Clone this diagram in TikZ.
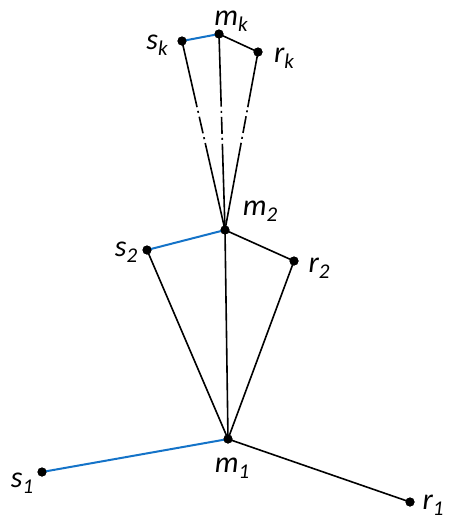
\documentclass[tikz,border=0pt]{standalone}
\usepackage{fontspec}
\setmainfont{Carlito}
\usetikzlibrary{calc}
\definecolor{linkblue}{RGB}{20,115,200}
\newcommand{\lbl}[2]{{\fontsize{30}{33}\selectfont\itshape #1\raisebox{-6.5pt}{\fontsize{21}{23}\selectfont #2}}}
\tikzset{
  pt/.style={circle,fill=black,inner sep=0pt,minimum size=9pt},
  bar/.style={line width=1.6pt,black},
  bluebar/.style={line width=2pt,linkblue},
  dashdot/.style={line width=1.6pt,black,dash pattern=on 0pt off 4pt on 2pt off 4pt on 17pt off 4pt on 2pt off 4pt},
  lab/.style={inner sep=0pt,anchor=center}
}
\begin{document}
\begin{tikzpicture}[x=1pt,y=-1pt]
\useasboundingbox (0,0) rectangle (474,520);
\node[pt] (mk) at (219,34) {};
\node[pt] (sk) at (182,41) {};
\node[pt] (rk) at (258,52) {};
\node[pt] (m2) at (225,230) {};
\node[pt] (s2) at (147,250) {};
\node[pt] (r2) at (294,261) {};
\node[pt] (m1) at (228,439) {};
\node[pt] (s1) at (42,472) {};
\node[pt] (r1) at (410,502) {};
% break points on the upper fan
\coordinate (sa) at ($(m2.center)!0.46!(sk.center)$);
\coordinate (sb) at ($(m2.center)!0.65!(sk.center)$);
\coordinate (ma) at ($(m2.center)!0.44!(mk.center)$);
\coordinate (mb) at ($(m2.center)!0.63!(mk.center)$);
\coordinate (ra) at ($(m2.center)!0.49!(rk.center)$);
\coordinate (rb) at ($(m2.center)!0.69!(rk.center)$);
% top link
\draw[bluebar] (sk.center) -- (mk.center);
\draw[bar] (mk.center) -- (rk.center);
% upper fan
\draw[bar] (m2.center) -- (sa);
\draw[dashdot] (sa) -- (sb);
\draw[bar] (sb) -- (sk.center);
\draw[bar] (m2.center) -- (ma);
\draw[dashdot] (ma) -- (mb);
\draw[bar] (mb) -- (mk.center);
\draw[bar] (m2.center) -- (ra);
\draw[dashdot] (ra) -- (rb);
\draw[bar] (rb) -- (rk.center);
% middle link
\draw[bluebar] (s2.center) -- (m2.center);
\draw[bar] (m2.center) -- (r2.center);
% lower fan
\draw[bar] (s2.center) -- (m1.center);
\draw[bar] (m2.center) -- (m1.center);
\draw[bar] (r2.center) -- (m1.center);
% bottom link
\draw[bluebar] (s1.center) -- (m1.center);
\draw[bar] (m1.center) -- (r1.center);
% redraw points on top
\foreach \p in {mk,sk,rk,m2,s2,r2,m1,s1,r1} \fill (\p.center) circle (4.5pt);
% labels
\node[lab] (lsk) at (157,45) {\lbl{s}{k}};
\node[lab] (lmk) at (231,21) {\lbl{m}{k}};
\node[lab] (lrk) at (284,58) {\lbl{r}{k}};
\node[lab] (lm2) at (260,211) {\lbl{m}{2}};
\node[lab] (ls2) at (126,252) {\lbl{s}{2}};
\node[lab] (lr2) at (319,268) {\lbl{r}{2}};
\node[lab] (lm1) at (232,468) {\lbl{m}{1}};
\node[lab] (ls1) at (22,483) {\lbl{s}{1}};
\node[lab] (lr1) at (433,505) {\lbl{r}{1}};
\end{tikzpicture}
\end{document}
